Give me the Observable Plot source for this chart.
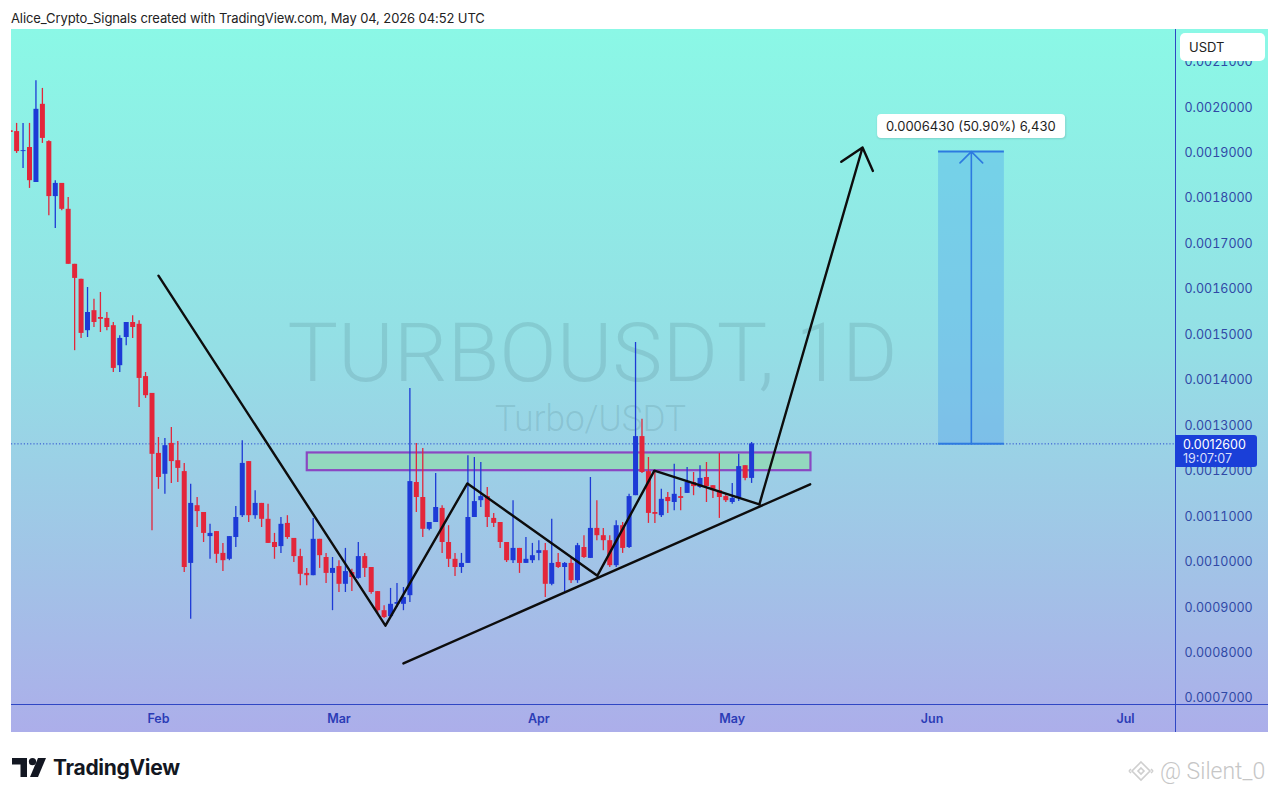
<!DOCTYPE html>
<html><head><meta charset="utf-8">
<script src="https://cdn.jsdelivr.net/npm/d3@7"></script>
<script src="https://cdn.jsdelivr.net/npm/@observablehq/plot@0.6"></script>
<style>
html,body{margin:0;padding:0;background:#fff;}
body{width:1280px;height:797px;position:relative;overflow:hidden;font-family:Inter,"Liberation Sans",sans-serif;}
#hdr{position:absolute;left:11px;top:10px;font-size:13px;color:#222;white-space:nowrap;letter-spacing:-0.1px;}
#panel{position:absolute;left:11px;top:29px;width:1257px;height:703px;
 background:linear-gradient(to bottom,#8bf8e6 0%,#94dfe5 45%,#a3c0e7 80%,#acaeea 100%);}
#panel svg{position:absolute;left:0;top:0;}
.ov{position:absolute;z-index:5;}
#vline{left:1164px;top:0;width:1px;height:703px;background:#2f47c4;}
#hline{left:0;top:675px;width:1257px;height:1px;background:#2f47c4;}
#usdt{left:1169px;top:4px;width:85px;height:28px;background:#fff;border-radius:5px;font-size:13px;color:#222;line-height:28px;box-sizing:border-box;padding-left:9px;}
#plabel{left:1164px;width:82px;height:32px;background:#1a3fd8;border-radius:0 3px 3px 0;color:#fff;font-size:12.5px;line-height:14px;box-sizing:border-box;padding:3px 0 0 8px;}
#plabel span{color:#d6defc;}
#mlabel{height:24px;background:#fff;border-radius:4px;font-size:13px;color:#1e1e1e;line-height:24px;padding:0 9px;white-space:nowrap;transform:translate(-50%,-50%);box-shadow:0 1px 2px rgba(0,0,0,0.12);}
#logo{position:absolute;left:12px;top:755px;display:flex;align-items:center;}
#logo span{font-size:21px;font-weight:700;color:#131722;margin-left:7px;letter-spacing:-0.3px;}
#silent{position:absolute;left:1126px;top:758px;display:flex;align-items:center;color:#c6c6c6;font-family:Roboto,sans-serif;font-weight:300;font-size:23px;}
</style></head>
<body>
<div id="hdr">Alice_Crypto_Signals created with TradingView.com, May 04, 2026 04:52 UTC</div>
<div id="panel"></div>
<div id="logo"><svg width="34" height="20" viewBox="0 0 34 20"><path d="M0 0H15V19H8.5V6.5H0Z" fill="#131722"/><circle cx="20.5" cy="3.6" r="3.6" fill="#131722"/><path d="M26 0H34L26 19H18Z" fill="#131722"/></svg><span>TradingView</span></div>
<div id="silent"><svg width="30" height="26" viewBox="0 0 30 26" style="margin-right:4px"><g fill="none" stroke="#cfcfcf" stroke-width="1.6"><path d="M15 3L24 12L15 21L6 12Z"/><path d="M15 9L18 12L15 15L12 12Z"/><path d="M3 12L5 10M3 12L5 14M27 12L25 10M27 12L25 14"/></g></svg>@ Silent_0</div>
<script>
// ---- data (TURBO/USDT daily candles, 9 Jan 2026 - 4 May 2026) ----
const firstDay = "2026-01-09";
const open = [0.001949,0.001947,0.001903,0.001912,0.001835,0.002007,0.001925,0.001804,0.001833,0.001776,
0.001655,0.001622,0.001509,0.001553,0.001538,0.001536,0.001520,0.001432,0.001494,0.001527,
0.001523,0.001408,0.001371,0.001239,0.001193,0.001261,0.001223,0.001199,0.000997,0.001124,
0.001109,0.001056,0.001067,0.001019,0.001006,0.001054,0.001102,0.001221,0.001102,0.001129,
0.001094,0.001043,0.001034,0.001085,0.001052,0.001012,0.000975,0.000970,0.001050,0.001010,
0.000975,0.000990,0.000951,0.000977,0.000964,0.001012,0.000988,0.000935,0.000893,0.000880,
0.000907,0.000907,0.000926,0.001175,0.001142,0.001072,0.001087,0.001118,0.001043,0.001006,
0.000988,0.000997,0.001098,0.001135,0.001144,0.001096,0.001087,0.001043,0.001003,0.001030,
0.000997,0.001003,0.001019,0.001025,0.000951,0.000999,0.000988,0.000997,0.000959,0.001032,
0.001008,0.001074,0.001058,0.001047,0.000992,0.001080,0.001032,0.001146,0.001276,0.001199,
0.001109,0.001102,0.001142,0.001131,0.001144,0.001151,0.001175,0.001164,0.001186,0.001168,
0.001157,0.001144,0.001131,0.001140,0.001212,0.001184];
const high = [0.002015,0.001965,0.001965,0.001965,0.002059,0.002042,0.001927,0.001839,0.001833,0.001802,
0.001655,0.001622,0.001604,0.001578,0.001593,0.001549,0.001527,0.001498,0.001527,0.001542,
0.001531,0.001417,0.001371,0.001274,0.001272,0.001296,0.001265,0.001217,0.001171,0.001142,
0.001109,0.001083,0.001067,0.001041,0.001056,0.001122,0.001267,0.001221,0.001157,0.001129,
0.001127,0.001063,0.001098,0.001102,0.001052,0.001028,0.000986,0.001096,0.001050,0.001019,
0.001010,0.001003,0.001030,0.000984,0.001043,0.001019,0.000988,0.000935,0.000904,0.000942,
0.000953,0.000944,0.001382,0.001261,0.001250,0.001087,0.001195,0.001124,0.001080,0.001019,
0.001019,0.001234,0.001230,0.001219,0.001164,0.001107,0.001087,0.001043,0.001135,0.001030,
0.001054,0.001041,0.001047,0.001041,0.001094,0.001019,0.000999,0.001010,0.001041,0.001058,
0.001186,0.001135,0.001074,0.001058,0.001091,0.001087,0.001149,0.001483,0.001314,0.001230,
0.001197,0.001160,0.001153,0.001215,0.001164,0.001208,0.001197,0.001212,0.001219,0.001168,
0.001239,0.001151,0.001173,0.001237,0.001212,0.001263];
const low = [0.001943,0.001899,0.001866,0.001822,0.001835,0.001921,0.001762,0.001734,0.001773,0.001655,
0.001465,0.001492,0.001494,0.001516,0.001505,0.001509,0.001417,0.001417,0.001476,0.001492,
0.001340,0.001360,0.001069,0.001160,0.001149,0.001173,0.001175,0.000977,0.000874,0.001076,
0.001043,0.001006,0.000997,0.000979,0.001003,0.001032,0.001098,0.001087,0.001094,0.001076,
0.001041,0.001006,0.001019,0.001050,0.000999,0.000948,0.000948,0.000970,0.000986,0.000953,
0.000893,0.000933,0.000933,0.000935,0.000962,0.000966,0.000929,0.000887,0.000876,0.000878,
0.000900,0.000893,0.000911,0.001109,0.001054,0.001069,0.001087,0.001019,0.000988,0.000968,
0.000975,0.000997,0.001098,0.001120,0.001076,0.001076,0.001030,0.000999,0.000997,0.000975,
0.000997,0.000997,0.001003,0.000922,0.000948,0.000986,0.000933,0.000953,0.000953,0.001008,
0.001008,0.001047,0.001025,0.000988,0.000988,0.001019,0.001030,0.001146,0.001195,0.001085,
0.001085,0.001098,0.001107,0.001113,0.001113,0.001151,0.001146,0.001162,0.001131,0.001140,
0.001096,0.001131,0.001127,0.001133,0.001179,0.001173];
const close = [0.001945,0.001903,0.001905,0.001839,0.001996,0.001932,0.001804,0.001833,0.001776,0.001655,
0.001624,0.001503,0.001549,0.001527,0.001534,0.001516,0.001426,0.001492,0.001527,0.001516,
0.001404,0.001366,0.001237,0.001186,0.001256,0.001221,0.001206,0.000988,0.001129,0.001111,
0.001063,0.001063,0.001017,0.001003,0.001056,0.001098,0.001217,0.001102,0.001129,0.001094,
0.001041,0.001032,0.001083,0.001054,0.001012,0.000973,0.000970,0.001050,0.001014,0.000975,
0.000986,0.000951,0.000979,0.000966,0.001012,0.000986,0.000933,0.000893,0.000878,0.000907,
0.000911,0.000922,0.001177,0.001142,0.001072,0.001087,0.001120,0.001043,0.001006,0.000988,
0.000997,0.001098,0.001133,0.001144,0.001098,0.001085,0.001043,0.001003,0.001030,0.000997,
0.001006,0.001014,0.001025,0.000951,0.000997,0.000988,0.000997,0.000959,0.001036,0.001010,
0.001074,0.001058,0.001047,0.000992,0.001080,0.001030,0.001144,0.001276,0.001197,0.001107,
0.001105,0.001138,0.001133,0.001149,0.001140,0.001175,0.001166,0.001184,0.001166,0.001157,
0.001142,0.001135,0.001140,0.001210,0.001184,0.001260];

const lastPrice = 0.00126;
const lastPriceText = ["0.0012600", "19:07:07"];
const yTicks = [0.0007,0.0008,0.0009,0.0010,0.0011,0.0012,0.0013,0.0014,0.0015,0.0016,0.0017,0.0018,0.0019,0.0020,0.0021];
const monthTicks = ["2026-02-01","2026-03-01","2026-04-01","2026-05-01","2026-06-01","2026-07-01"];
const xDomain = ["2026-01-09T05:00Z", "2026-07-08T18:00Z"];
const yDomain = [0.0006866, 0.0021716];

// drawings
const patternDates  = ["2026-02-01T00:00Z","2026-03-08T05:00Z","2026-03-20T22:00Z","2026-04-10T02:00Z","2026-04-18T22:00Z","2026-05-05T05:00Z"];
const patternPrices = [0.001630, 0.000860, 0.001173, 0.000970, 0.001201, 0.001127];
const arrowEnd = {date: "2026-05-21T05:00Z", price: 0.001912};
const trendDates  = ["2026-03-11T00:00Z", "2026-05-13T02:00Z"];
const trendPrices = [0.000777, 0.001171];
const zoneDates  = ["2026-02-24T02:00Z", "2026-05-13T05:00Z"];
const zonePrices = [0.001201, 0.001240];
const measureDates = ["2026-06-02T00:00Z", "2026-06-12T05:00Z", "2026-06-07T02:00Z"];
const measurePrices = [0.001260, 0.001903];
const measureText = "0.0006430 (50.90%) 6,430";
const watermark = ["TURBOUSDT, 1D", "Turbo/USDT"];

// ---- build ----
const D = s => new Date(s);
const start = new Date(firstDay + "T00:00Z");
const candles = open.map((o, i) => ({date: d3.utcDay.offset(start, i), open: o, high: high[i], low: low[i], close: close[i]}));
const up = candles.filter(d => d.close >= d.open);
const down = candles.filter(d => d.close < d.open);
const RED = "#e3263a", BLUE = "#1d3ad6";
const pattern = patternDates.map((d, i) => ({date: D(d), price: patternPrices[i]}));
const trend = trendDates.map((d, i) => ({date: D(d), price: trendPrices[i]}));
const zone = [{x1: D(zoneDates[0]), x2: D(zoneDates[1]), y1: zonePrices[0], y2: zonePrices[1]}];
const mX1 = D(measureDates[0]), mX2 = D(measureDates[1]), mMid = D(measureDates[2]);

const chart = Plot.plot({
  width: 1257, height: 703,
  marginLeft: 0, marginRight: 93, marginTop: 0, marginBottom: 28,
  style: {background: "transparent", fontFamily: "Inter, sans-serif", overflow: "visible"},
  x: {type: "utc", domain: xDomain.map(D)},
  y: {domain: yDomain},
  marks: [
    Plot.text([watermark[0]], {text: d => d, frameAnchor: "middle", dx: -1, dy: -12, fontSize: 82, fontFamily: "Roboto", fontWeight: 300, fill: "#4a7a84", fillOpacity: 0.2}),
    Plot.text([watermark[1]], {text: d => d, frameAnchor: "middle", dx: -3, dy: 52, fontSize: 36, fontFamily: "Roboto", fontWeight: 300, fill: "#4a7a84", fillOpacity: 0.2}),
    Plot.rect([{x1: mX1, x2: mX2, y1: measurePrices[0], y2: measurePrices[1]}], {x1: "x1", x2: "x2", y1: "y1", y2: "y2", fill: "#3a93ee", fillOpacity: 0.3}),
    Plot.rect(zone, {x1: "x1", x2: "x2", y1: "y1", y2: "y2", fill: "#92d8b9", fillOpacity: 0.9, stroke: "#8a47c2", strokeWidth: 2.2}),
    Plot.ruleY([lastPrice], {stroke: "#2a4bd0", strokeWidth: 1, strokeDasharray: "1.2,2"}),
    Plot.ruleX(down, {x: "date", y1: "low", y2: "high", stroke: RED, strokeWidth: 1.3, clip: true}),
    Plot.ruleX(up, {x: "date", y1: "low", y2: "high", stroke: BLUE, strokeWidth: 1.3, clip: true}),
    Plot.ruleX(down, {x: "date", y1: "open", y2: "close", stroke: RED, strokeWidth: 5, clip: true}),
    Plot.ruleX(up, {x: "date", y1: "open", y2: "close", stroke: BLUE, strokeWidth: 5, clip: true}),
    Plot.line(pattern, {x: "date", y: "price", stroke: "#0d0d0d", strokeWidth: 2.4}),
    Plot.arrow([{x1: pattern[pattern.length - 1].date, y1: pattern[pattern.length - 1].price, x2: D(arrowEnd.date), y2: arrowEnd.price}],
      {x1: "x1", y1: "y1", x2: "x2", y2: "y2", stroke: "#0d0d0d", strokeWidth: 2.4, headLength: 16, headAngle: 80}),
    Plot.line(trend, {x: "date", y: "price", stroke: "#0d0d0d", strokeWidth: 2.4}),
    Plot.ruleY(measurePrices, {x1: mX1, x2: mX2, stroke: "#2c7ae0", strokeWidth: 2}),
    Plot.arrow([{x: mMid, y1: measurePrices[0], y2: measurePrices[1]}], {x1: "x", x2: "x", y1: "y1", y2: "y2", stroke: "#2c7ae0", strokeWidth: 1.6, headLength: 15, headAngle: 90}),
    Plot.axisY({anchor: "right", ticks: yTicks, tickSize: 0, tickPadding: 9, tickFormat: d3.format(".7f"), fontSize: 12.5, color: "#3049a6", label: null}),
    Plot.axisX({ticks: monthTicks.map(s => D(s + "T00:00Z")), tickSize: 0, tickPadding: 10, tickFormat: d3.utcFormat("%b"), fontSize: 12.5, fontWeight: 600, color: "#2b3cb6", label: null})
  ]
});

const panel = document.getElementById("panel");
panel.appendChild(chart);
// squeeze watermark to its width
chart.querySelectorAll("text").forEach(t => {
  if (t.textContent === watermark[0]) { t.setAttribute("textLength", 610); t.setAttribute("lengthAdjust", "spacingAndGlyphs"); }
  if (t.textContent === watermark[1]) { t.setAttribute("textLength", 191); t.setAttribute("lengthAdjust", "spacingAndGlyphs"); }
});

const xs = chart.scale("x"), ys = chart.scale("y");
function ov(id, html) { const d = document.createElement("div"); d.id = id; d.className = "ov"; d.innerHTML = html || ""; panel.appendChild(d); return d; }
ov("vline"); ov("hline");
ov("usdt", "USDT");
const pl = ov("plabel", lastPriceText[0] + "<br><span>" + lastPriceText[1] + "</span>");
pl.style.top = (ys.apply(lastPrice) - 8) + "px";
const ml = ov("mlabel", measureText);
ml.style.left = xs.apply(mMid) + "px";
ml.style.top = (ys.apply(measurePrices[1]) - 25) + "px";
</script>
</body></html>
